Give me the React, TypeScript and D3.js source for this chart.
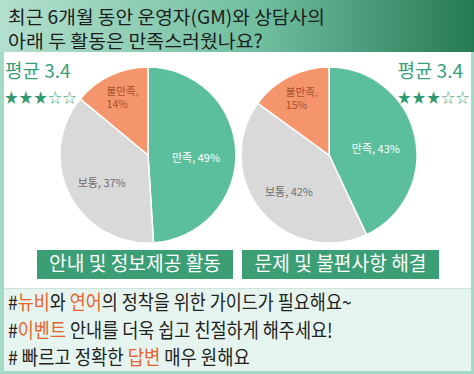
import React, { useEffect, useRef } from "react";
import * as d3 from "d3";

// chart values
const categories = ["만족", "보통", "불만족"];
const activities = ["안내 및 정보제공 활동", "문제 및 불편사항 해결"];
const shares = [
  [49, 37, 14],
  [43, 42, 15],
];
const averages = [3.4, 3.4];
const starCounts = [3, 3];
const titleLines = ["최근 6개월 동안 운영자(GM)와 상담사의", "아래 두 활동은 만족스러웠나요?"];
// [text, highlighted]
const commentLines: [string, boolean][][] = [
  [["#", false], ["뉴비", true], ["와 ", false], ["연어", true], ["의 정착을 위한 가이드가 필요해요~", false]],
  [["#", false], ["이벤트", true], [" 안내를 더욱 쉽고 친절하게 해주세요!", false]],
  [["# 빠르고 정확한 ", false], ["답변", true], [" 매우 원해요", false]],
];

const W = 474;
const H = 374;
const FONT = "'Noto Sans CJK KR', 'Noto Sans', sans-serif";

const sliceColor = d3.scaleOrdinal<string, string>().domain(categories).range(["#5bbf9e", "#d9d9d9", "#f4956b"]);
const labelColor = d3.scaleOrdinal<string, string>().domain(categories).range(["#ffffff", "#6f6f6f", "#a5502c"]);
const labelRadius = d3.scaleOrdinal<string, number>().domain(categories).range([48, 52, 62]);

// squeeze a text horizontally so it spans `width` px from x (anchor start) or around x (middle)
function fitWidth(t: d3.Selection<SVGTextElement, unknown, null, undefined>, x: number, width: number, anchor = "start") {
  const natural = t.node()!.getComputedTextLength();
  const k = natural > 0 ? width / natural : 1;
  t.attr("x", 0).attr("text-anchor", anchor).attr("transform", `translate(${x},${t.attr("y")}) scale(${k},1)`).attr("y", 0);
}

const App = () => {
  const ref = useRef<SVGSVGElement>(null);

  useEffect(() => {
    const svg = d3.select(ref.current);
    svg.selectAll("*").remove();

    const defs = svg.append("defs");
    const grad = defs.append("linearGradient").attr("id", "hdr").attr("x1", 0).attr("x2", 1).attr("y1", 0).attr("y2", 0);
    grad.append("stop").attr("offset", "0%").attr("stop-color", "#b3e0ce");
    grad.append("stop").attr("offset", "55%").attr("stop-color", "#6fbe9e");
    grad.append("stop").attr("offset", "100%").attr("stop-color", "#277a56");

    // frame
    svg.append("rect").attr("width", W).attr("height", H).attr("fill", "#a4dac6");
    svg.append("rect").attr("x", 0).attr("y", 0).attr("width", W).attr("height", 52).attr("fill", "url(#hdr)");
    svg.append("rect").attr("x", 4).attr("y", 52).attr("width", 467).attr("height", 236).attr("fill", "#ffffff");
    svg.append("rect").attr("x", 4).attr("y", 288).attr("width", 467).attr("height", 83).attr("fill", "#e5f4ee");
    svg.append("line").attr("x1", 4).attr("x2", 471).attr("y1", 288.5).attr("y2", 288.5).attr("stroke", "#cfe3da");

    // title
    const titleLen = [317, 255];
    titleLines.forEach((line, i) => {
      const t = svg.append("text")
        .attr("y", 23.5 + i * 24)
        .attr("font-family", FONT)
        .attr("font-size", 18.5)
        .attr("fill", "#1d1d1d")
        .text(line);
      fitWidth(t, 8, titleLen[i]);
    });

    const cx = d3.scaleOrdinal<string, number>().domain(activities).range([148, 329]);
    const cy = 155;
    const r = 88;
    const pie = d3.pie<number>().sort(null).value((d) => d);
    const arc = d3.arc<d3.PieArcDatum<number>>().innerRadius(0).outerRadius(r);

    activities.forEach((act, ai) => {
      const g = svg.append("g").attr("transform", `translate(${cx(act)},${cy})`);
      const arcs = pie(shares[ai]);
      g.selectAll("path")
        .data(arcs)
        .enter()
        .append("path")
        .attr("d", arc)
        .attr("fill", (d, i) => sliceColor(categories[i]))
        .attr("stroke", "#ffffff")
        .attr("stroke-width", 1.5);

      arcs.forEach((a, i) => {
        const cat = categories[i];
        const lr = labelRadius(cat);
        const [lx, ly] = d3.arc<d3.PieArcDatum<number>>().innerRadius(lr).outerRadius(lr).centroid(a);
        const lines = cat === "불만족" ? [`${cat},`, `${a.data}%`] : [`${cat}, ${a.data}%`];
        lines.forEach((s, li) => {
          g.append("text")
            .attr("x", lines.length > 1 ? lx - 15 : lx)
            .attr("y", lines.length > 1 ? ly - 4 + li * 13.5 : ly + 8)
            .attr("text-anchor", lines.length > 1 ? "start" : "middle")
            .attr("font-family", FONT)
            .attr("font-size", lines.length > 1 ? 10.5 : 11)
            .attr("fill", labelColor(cat))
            .text(s);
        });
      });

      // activity label box
      const bx = ai === 0 ? 37 : 242;
      const bw = ai === 0 ? 196 : 197;
      svg.append("rect").attr("x", bx).attr("y", 250).attr("width", bw).attr("height", 29).attr("fill", "#3b9e74");
      const lt = svg.append("text")
        .attr("y", 271)
        .attr("font-family", FONT)
        .attr("font-size", 20)
        .attr("fill", "#ffffff")
        .text(act);
      fitWidth(lt, bx + bw / 2, 172, "middle");

      // average + stars
      const left = ai === 0;
      svg.append("text")
        .attr("x", left ? 5 : 463)
        .attr("y", 78)
        .attr("text-anchor", left ? "start" : "end")
        .attr("font-family", FONT)
        .attr("font-size", 19)
        .attr("fill", "#3a9f7b")
        .text(`평균 ${averages[ai]}`);
      const stars = d3.range(5).map((k) => (k < starCounts[ai] ? "★" : "☆")).join("");
      const st = svg.append("text")
        .attr("y", 104)
        .attr("font-family", "'DejaVu Sans', sans-serif")
        .attr("font-size", 18)
        .attr("fill", "#2f9a70")
        .text(stars);
      fitWidth(st, left ? 4 : 397, 73);
    });

    // comments
    const commentLen = [344, 325, 242];
    commentLines.forEach((line, li) => {
      const t = svg.append("text")
        .attr("y", 310 + li * 27.5)
        .attr("font-family", FONT)
        .attr("font-size", 20)
        .attr("fill", "#222222");
      line.forEach(([txt, hl]) => {
        t.append("tspan").attr("fill", hl ? "#e8632b" : "#222222").text(txt);
      });
      fitWidth(t, 8, commentLen[li]);
    });
  }, []);

  return <svg ref={ref} width={W} height={H} style={{ position: "absolute", left: 0, top: 0 }} />;
};

export default App;
